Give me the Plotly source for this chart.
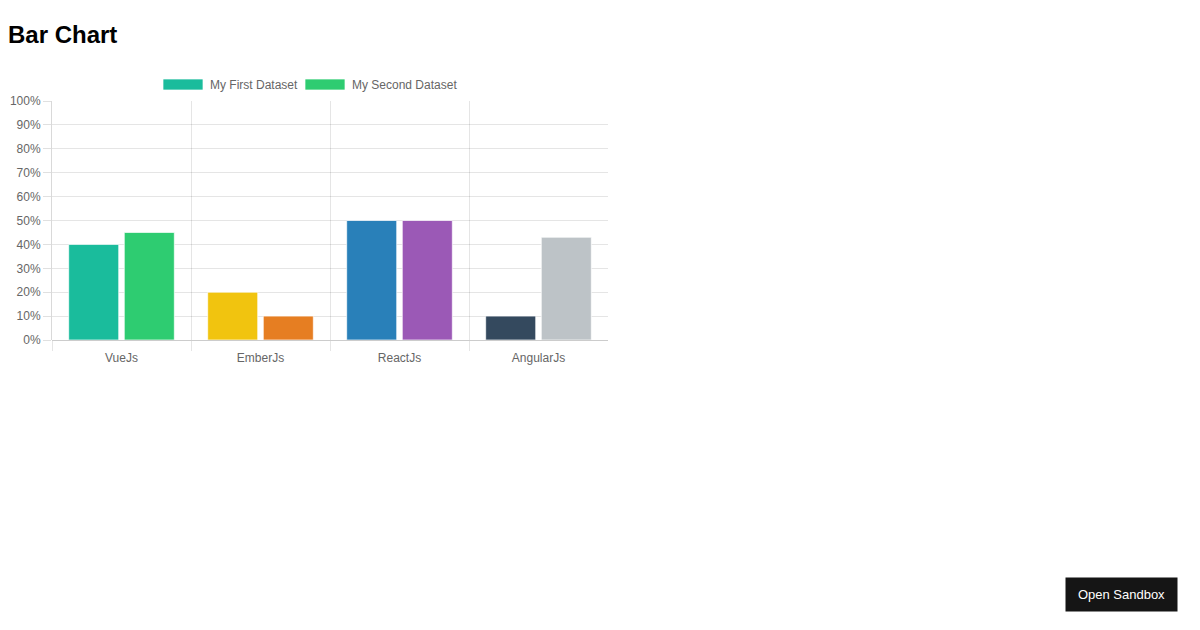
import plotly.graph_objects as go

# chart data
categories = ['VueJs', 'EmberJs', 'ReactJs', 'AngularJs']
first_values = [40, 20, 50, 10]
second_values = [45, 10, 50, 43]
first_colors = ['#1abc9c', '#f1c40f', '#2980b9', '#34495e']
second_colors = ['#2ecc71', '#e67e22', '#9b59b6', '#bdc3c7']
y_ticks = list(range(0, 101, 10))
y_labels = [f'{v}%' for v in y_ticks]

# page body has an 8px margin, so figure pixels = screen pixels - 8
OFF = 8
W, H = 1200 - OFF, 630 - OFF
L, R, T, B = 52 - OFF, 608 - OFF, 101 - OFF, 340 - OFF  # plot area


def px(x):
    return (x - OFF - L) / (R - L)


def py(y):
    return (B - (y - OFF)) / (B - T)


xs = list(range(len(categories)))

fig = go.Figure()
fig.add_trace(go.Bar(
    x=xs, y=first_values, name='My First Dataset',
    marker=dict(color=first_colors, line=dict(color='rgba(255,255,255,0.7)', width=1)),
))
fig.add_trace(go.Bar(
    x=xs, y=second_values, name='My Second Dataset',
    marker=dict(color=second_colors, line=dict(color='rgba(255,255,255,0.7)', width=1)),
))

grid = 'rgba(0,0,0,0.1)'
fig.update_layout(
    width=W, height=H,
    margin=dict(l=L, r=W - R, t=T, b=H - B, autoexpand=False),
    paper_bgcolor='white', plot_bgcolor='white',
    font=dict(family='Liberation Sans, Arial, sans-serif', size=12, color='#666'),
    barmode='group', bargap=0.2, bargroupgap=0.1,
    showlegend=False,
    title=dict(
        text='<b>Bar Chart</b>', xref='container', yref='container',
        x=0, xanchor='left', y=1 - (35 - OFF) / H, yanchor='middle',
        font=dict(family='Liberation Sans, Arial, sans-serif', size=24, color='#000'),
    ),
    xaxis=dict(
        range=[-0.5, len(categories) - 0.5],
        tickmode='array', tickvals=xs, ticktext=categories,
        showgrid=False, zeroline=False, ticks='', ticklabelstandoff=9,
        showline=False,
        minor=dict(tickmode='array', tickvals=[i - 0.5 for i in xs],
                   showgrid=True, gridcolor=grid, gridwidth=1,
                   ticks='outside', ticklen=10, tickcolor=grid),
    ),
    yaxis=dict(
        range=[0, 100], tickmode='array', tickvals=y_ticks, ticktext=y_labels,
        showgrid=True, gridcolor=grid, gridwidth=1,
        zeroline=True, zerolinecolor='rgba(0,0,0,0.2)', zerolinewidth=1,
        ticks='outside', ticklen=8, tickcolor='rgba(0,0,0,0.12)', tickwidth=1,
        showline=True, linecolor='rgba(0,0,0,0.15)', linewidth=1,
        ticklabelstandoff=0,
    ),
)

# legend drawn as Chart.js style boxes
legend_items = [
    (163, first_colors[0], 'My First Dataset'),
    (305, second_colors[0], 'My Second Dataset'),
]
for x0, col, label in legend_items:
    fig.add_shape(type='rect', xref='paper', yref='paper',
                  x0=px(x0), x1=px(x0 + 40), y0=py(90), y1=py(79),
                  fillcolor=col, line=dict(color='rgba(255,255,255,0.7)', width=1))
    fig.add_annotation(xref='paper', yref='paper', x=px(x0 + 45), y=py(84.5),
                       xanchor='left', yanchor='middle', text=label, showarrow=False,
                       font=dict(size=12, color='#666'))

# "Open Sandbox" button
fig.add_annotation(xref='paper', yref='paper', x=px(1121.5), y=py(594.5),
                   xanchor='center', yanchor='middle', text='Open Sandbox',
                   showarrow=False, bgcolor='#151515', borderpad=8,
                   width=95, height=17,
                   font=dict(family='Liberation Sans, Arial, sans-serif', size=13, color='white'))

fig.write_html('out.html')
